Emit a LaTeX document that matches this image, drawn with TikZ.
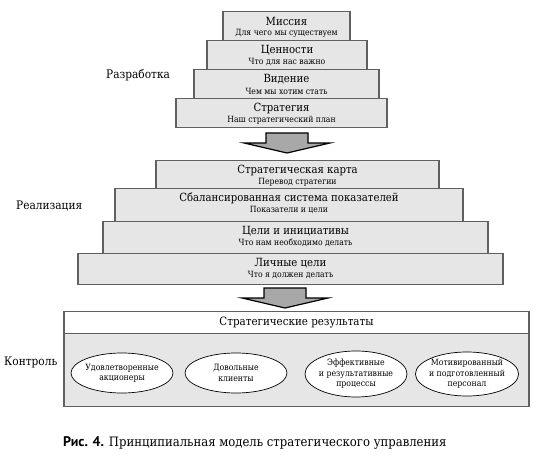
\documentclass[tikz,border=0pt]{standalone}
\usepackage{fontspec}
\setmainfont{DejaVu Serif Condensed}
\newfontfamily\capsans{PT Sans}
\usepackage{tikz}
\usetikzlibrary{calc,positioning,shapes.geometric}
\definecolor{stepgray}{HTML}{E6E6E6}
\definecolor{edgegray}{HTML}{606060}
\definecolor{arrowgray}{HTML}{A8A8A8}

\begin{document}
\begin{tikzpicture}[x=1bp, y=-1bp,
  stepbox/.style={draw=edgegray, line width=1.3bp, fill=stepgray,
                  inner sep=0pt},
  steptitle/.style={font=\fontsize{11.3}{12}\selectfont, inner sep=0pt},
  stepnote/.style={font=\fontsize{8.6}{9}\selectfont, inner sep=0pt},
  phase/.style={font=\fontsize{11.8}{12}\selectfont, anchor=west, inner sep=0pt},
  result/.style={ellipse, draw=black, fill=white, line width=0.7bp,
                 minimum width=102bp, minimum height=40bp, inner sep=-1.5pt,
                 align=center, font=\fontsize{8.7}{10.5}\selectfont},
  flow/.style={draw=black, line width=1.2bp, fill=arrowgray, line join=miter},
]
  \useasboundingbox (0,0) rectangle (537,456);

  % #1 name, #2 centre x, #3 top y, #4 width, #5 height, #6 title, #7 note
  \newcommand{\pyramidstep}[7]{%
    \node[stepbox, minimum width=#4bp, minimum height=#5bp, anchor=north]
      (#1) at (#2,#3) {};
    \node[steptitle] (#1-title) at ($(#1.north)+(0,10)$) {#6};
    \node[stepnote] (#1-note) at ($(#1.north)+(0,22)$) {#7};
  }
  % #1 centre x, #2 shaft top y
  \newcommand{\stagearrow}[2]{%
    \draw[flow] (#1-21,#2) -- (#1+21,#2) -- (#1+21,#2+10) -- (#1+43,#2+10)
      -- (#1,#2+20) -- (#1-43,#2+10) -- (#1-21,#2+10) -- cycle;
  }

  % Development.
  \pyramidstep{mission}{286.5}{11}{127}{29}{Миссия}{Для чего мы существуем}
  \pyramidstep{values}{287}{40}{160}{29}{Ценности}{Что для нас важно}
  \pyramidstep{vision}{286.5}{69}{185}{29}{Видение}{Чем мы хотим стать}
  \pyramidstep{strategy}{281.5}{98}{211}{29}{Стратегия}{Наш стратегический план}
  \node[phase] (develop) at (106,75) {Разработка};

  \stagearrow{287}{133}

  % Implementation.
  \pyramidstep{map}{297.5}{160}{283}{28}{Стратегическая карта}{Перевод стратегии}
  \pyramidstep{scorecard}{289}{188}{348}{33}{Сбалансированная система показателей}{Показатели и цели}
  \pyramidstep{goals}{295.5}{221}{385}{32}{Цели и инициативы}{Что нам необходимо делать}
  \pyramidstep{personal}{290.5}{253}{425}{31}{Личные цели}{Что я должен делать}
  \node[phase] (implement) at (16,206) {Реализация};

  \stagearrow{285}{288}

  % Control.
  \node[stepbox, fill=stepgray, minimum width=465bp, minimum height=73bp,
        anchor=north] (results-body) at (296.5,333) {};
  \node[stepbox, fill=white, minimum width=465bp, minimum height=22bp,
        anchor=north, font=\fontsize{11.5}{12}\selectfont]
    (results) at (296.5,311) {Стратегические результаты};
  \node[result] (holders) at (122,373) {Удовлетворенные\\акционеры};
  \node[result] (clients) at (236,373) {Довольные\\клиенты};
  \node[result, minimum height=46bp] (processes) at (356,374) {Эффективные\\и результативные\\процессы};
  \node[result, minimum height=44bp] (staff) at (467,374) {Мотивированный\\и подготовленный\\персонал};
  \node[phase] (control) at (4,362) {Контроль};

  \node[anchor=base west, inner sep=0pt, font=\fontsize{13}{14}\selectfont]
    (caption) at (63,446) {{\capsans\bfseries\fontsize{14}{14}\selectfont Рис. 4.} Принципиальная модель стратегического управления};
\end{tikzpicture}
\end{document}
